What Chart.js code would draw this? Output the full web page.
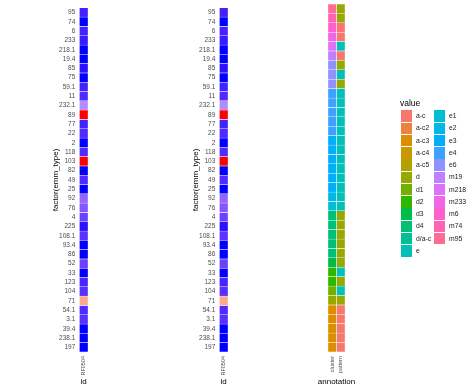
<!DOCTYPE html>
<html><head><meta charset="utf-8">
<script src="https://cdn.jsdelivr.net/npm/chart.js@4/dist/chart.umd.min.js"></script>
<style>
html,body{margin:0;padding:0;background:#fff;width:474px;height:391px;overflow:hidden;position:relative;}
canvas{position:absolute;top:0;}
#legend{position:absolute;left:0;top:0;width:474px;height:391px;will-change:transform;opacity:0.999;}
.lg{position:absolute;font-family:"Liberation Sans",Arial,sans-serif;white-space:nowrap;}
</style></head><body>
<canvas id="c1" width="100" height="391" style="left:0px"></canvas>
<canvas id="c2" width="100" height="391" style="left:140px"></canvas>
<canvas id="c3" width="80" height="391" style="left:300px"></canvas>
<div id="legend"></div>
<script>
// ---- data (top to bottom) ----
const emmTypes = ['95','74','6','233','218.1','19.4','85','75','59.1','11','232.1','89','77','22','2','118','103','82','49','25','92','76','4','225','108.1','93.4','86','52','33','123','104','71','54.1','3.1','39.4','238.1','197'];
const sampleIds = ['RF0504'];
const heatValues = [-0.93,-1,-0.93,-0.95,-1,-1,-0.97,-1,-0.93,-0.9,-0.5,1,-0.93,-0.9,-1,-0.9,1,-1,-0.9,-1,-0.66,-0.73,-0.82,-0.97,-0.87,-1,-1,-0.82,-1,-0.92,-0.88,0.45,-0.9,-0.88,-1,-1,-1];
const clusterValues = ['m95','m74','m6','m233','m218','m19','e6','e6','e6','e4','e4','e4','e4','e4','e3','e3','e3','e3','e3','e3','e2','e1','d4','d4','d4','d4','d4','d3','d2','d2','d1','d','a-c3','a-c3','a-c3','a-c3','a-c3'];
const patternValues = ['d','d','a-c','a-c','e','a-c','d','e','d','e','e','e','e','e','e','e','e','e','e','e','e','e','d','d','d','d','d','d','e','d','e','d','a-c','a-c','a-c','a-c','a-c'];
const annotationTracks = ['cluster','pattern'];
const annotationLevels = ['a-c','a-c2','a-c3','a-c4','a-c5','d','d1','d2','d3','d4','d/a-c','e','e1','e2','e3','e4','e6','m19','m218','m233','m6','m74','m95'];

// ---- colour helpers ----
function lin2srgb(v){v=Math.max(0,Math.min(1,v));return v<=0.0031308?12.92*v:1.055*Math.pow(v,1/2.4)-0.055;}
function srgb2lin(v){return v<=0.04045?v/12.92:Math.pow((v+0.055)/1.055,2.4);}
function toHex(r,g,b){return '#'+[r,g,b].map(x=>Math.round(Math.max(0,Math.min(1,x))*255).toString(16).padStart(2,'0')).join('');}
const Xn=95.047,Yn=100,Zn=108.883;
function xyz2hex(X,Y,Z){const x=X/100,y=Y/100,z=Z/100;
  return toHex(lin2srgb(3.240479*x-1.537150*y-0.498535*z),lin2srgb(-0.969256*x+1.875992*y+0.041556*z),lin2srgb(0.055648*x-0.204043*y+1.057311*z));}
function hcl(h,c,l){const hr=h*Math.PI/180,U=c*Math.cos(hr),V=c*Math.sin(hr);
  const Y=Yn*Math.pow((l+16)/116,3);const t=Xn+15*Yn+3*Zn;const un=4*Xn/t,vn=9*Yn/t;
  const u=U/(13*l)+un,v=V/(13*l)+vn;const X=9*Y*u/(4*v);const Z=-X/3-5*Y+3*Y/v;return xyz2hex(X,Y,Z);}
function hex2lab(hex){const n=parseInt(hex.slice(1),16);const r=srgb2lin((n>>16&255)/255),g=srgb2lin((n>>8&255)/255),b=srgb2lin((n&255)/255);
  const X=(0.412453*r+0.357580*g+0.180423*b)*100,Y=(0.212671*r+0.715160*g+0.072169*b)*100,Z=(0.019334*r+0.119193*g+0.950227*b)*100;
  const f=t=>t>0.008856?Math.cbrt(t):7.787*t+16/116;const fx=f(X/Xn),fy=f(Y/Yn),fz=f(Z/Zn);
  return [116*fy-16,500*(fx-fy),200*(fy-fz)];}
function lab2hex(L,a,b){const fy=(L+16)/116,fx=fy+a/500,fz=fy-b/200;const fi=t=>t*t*t>0.008856?t*t*t:(t-16/116)/7.787;
  return xyz2hex(fi(fx)*Xn,fi(fy)*Yn,fi(fz)*Zn);}
const LOW=hex2lab('#0000FF'),MID=hex2lab('#FFFFFF'),HIGH=hex2lab('#FF0000');
const maxAbs=Math.max(...heatValues.map(Math.abs));
function heatColor(v){const t=Math.min(1,Math.abs(v)/maxAbs);const end=v<0?LOW:HIGH;
  return lab2hex(MID[0]+(end[0]-MID[0])*t,MID[1]+(end[1]-MID[1])*t,MID[2]+(end[2]-MID[2])*t);}
const levelColors={};annotationLevels.forEach((lv,i)=>{levelColors[lv]=hcl(15+i*360/annotationLevels.length,100,65);});

const FONT='"Liberation Sans", Arial, sans-serif';
Chart.defaults.font.family=FONT;

function heatChart(id){
  return new Chart(document.getElementById(id),{
    type:'bar',
    data:{labels:emmTypes,datasets:sampleIds.map((s,j)=>({
      data:emmTypes.map(()=>[j,j+1]),
      backgroundColor:heatValues.map(heatColor),
      borderColor:'#ffffff',borderWidth:0.5,borderSkipped:false,
      categoryPercentage:1,barPercentage:1,grouped:false}))},
    options:{indexAxis:'y',responsive:false,animation:false,devicePixelRatio:1,
      layout:{padding:{top:4,right:11.5,left:0,bottom:0}},
      plugins:{legend:{display:false},tooltip:{enabled:false}},
      scales:{
        y:{type:'category',grid:{display:false,drawTicks:false},border:{display:false},
          ticks:{autoSkip:false,padding:4,color:'#4D4D4D',font:{size:6.5}},
          title:{display:true,text:'factor(emm_type)',color:'#000',font:{size:8},padding:{top:51,bottom:0}},
          afterFit:s=>{s.width=79.3;}},
        x:{type:'linear',min:0,max:sampleIds.length,grid:{display:false,drawTicks:false},border:{display:false},
          afterBuildTicks:s=>{s.ticks=sampleIds.map((_,j)=>({value:j+0.5}));},
          ticks:{callback:v=>sampleIds[Math.floor(v)],minRotation:90,maxRotation:90,padding:4,color:'#4D4D4D',font:{size:5.5}},
          title:{display:true,text:'id',color:'#000',font:{size:8},padding:{top:0,bottom:4}},
          afterFit:s=>{s.height=39;}}
      }}
  });
}
heatChart('c1');heatChart('c2');

// annotation: chart area 310..363, tracks occupy 328..345 (8.5 px per track)
const annotationData={cluster:clusterValues,pattern:patternValues};
const trackPx=8.5, leftGap=18, rightGap=18;
new Chart(document.getElementById('c3'),{
  type:'bar',
  data:{labels:emmTypes,datasets:annotationTracks.map((tr,j)=>({
    data:emmTypes.map(()=>[j,j+1]),
    backgroundColor:annotationData[tr].map(v=>levelColors[v]),
    borderColor:'#ffffff',borderWidth:0.5,borderSkipped:false,
    categoryPercentage:1,barPercentage:1,grouped:false}))},
  options:{indexAxis:'y',responsive:false,animation:false,devicePixelRatio:1,
    layout:{padding:{top:4,right:17,left:10,bottom:0}},
    plugins:{legend:{display:false},tooltip:{enabled:false}},
    scales:{
      y:{type:'category',display:false},
      x:{type:'linear',min:-leftGap/trackPx,max:annotationTracks.length+rightGap/trackPx,grid:{display:false,drawTicks:false},border:{display:false},
        afterBuildTicks:s=>{s.ticks=annotationTracks.map((_,j)=>({value:j+0.5}));},
        ticks:{callback:v=>annotationTracks[Math.floor(v)],minRotation:90,maxRotation:90,padding:4,color:'#4D4D4D',font:{size:5.5}},
        title:{display:true,text:'annotation',color:'#000',font:{size:8},padding:{top:0,bottom:4}},
        afterFit:s=>{s.height=39;}}
    }}
});

// ---- legend ----
const lg=document.getElementById('legend');
function add(text,style){const d=document.createElement('div');d.className='lg';d.textContent=text;Object.assign(d.style,style);lg.appendChild(d);return d;}
add('value',{left:'400px',top:'98px',fontSize:'8.5px',lineHeight:'10px',color:'#000'});
annotationLevels.forEach((lv,i)=>{
  const col=i<12?0:1,row=col?i-12:i;
  const kx=col?434:400.7,lx=col?449:416,cy=116+row*12.25;
  add('',{left:kx+'px',top:(cy-5.75)+'px',width:'11px',height:'11.5px',background:levelColors[lv]});
  add(lv,{left:lx+'px',top:(cy-4)+'px',fontSize:'6.8px',lineHeight:'8px',color:'#1a1a1a'});
});
</script>
</body></html>
